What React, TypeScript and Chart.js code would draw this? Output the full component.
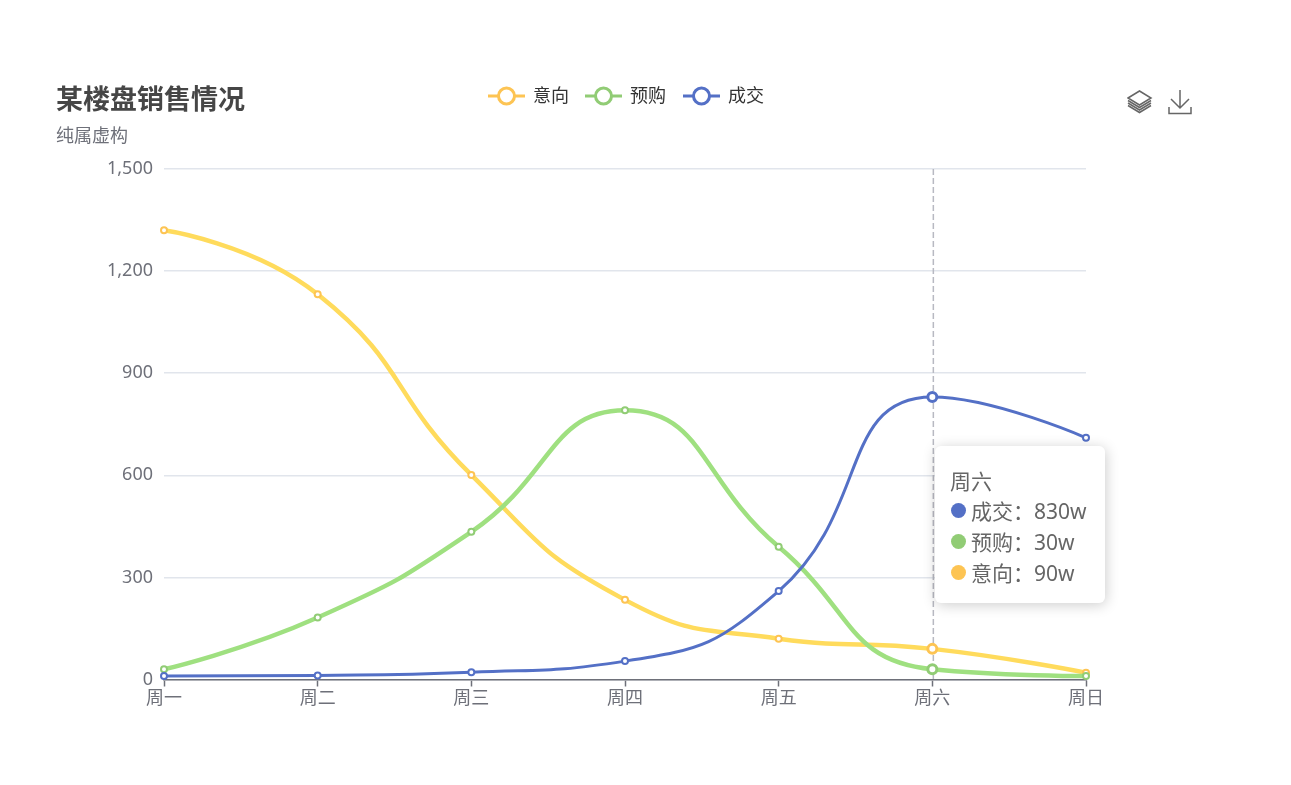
import { useEffect, useRef } from 'react';
import { Chart, registerables } from 'chart.js';

Chart.register(...registerables);

const FONT = '"Noto Sans", "Noto Sans CJK SC", sans-serif';

const days = ['周一', '周二', '周三', '周四', '周五', '周六', '周日'];
const intent = [1320, 1132, 601, 234, 120, 90, 20];
const booking = [30, 182, 434, 791, 390, 30, 10];
const deal = [10, 12, 21, 54, 260, 830, 710];
const activeDay = 5;

const YELLOW = '#FDC453';
const GREEN = '#91CC75';
const BLUE = '#5470C6';

const legendItems = [
    { name: '意向', color: YELLOW, left: 488 },
    { name: '预购', color: GREEN, left: 585 },
    { name: '成交', color: BLUE, left: 683 },
];

const tooltipRows = [
    { name: '成交', color: BLUE, value: deal[activeDay] },
    { name: '预购', color: GREEN, value: booking[activeDay] },
    { name: '意向', color: YELLOW, value: intent[activeDay] },
];

const clamp = (v: number, a: number, b: number) => Math.min(Math.max(v, Math.min(a, b)), Math.max(a, b));

// same tension as the library but control points stay between neighbouring points,
// and the two ends start flat on the point, so peaks do not overshoot
const noOvershoot = {
    id: 'noOvershoot',
    beforeDatasetDraw(chart: any, args: any) {
        const pts = args.meta.data;
        args.meta.dataset.updateControlPoints(chart.chartArea);
        const smooth = 0.5;
        pts.forEach((p: any, i: number) => {
            const prev = pts[i - 1];
            const next = pts[i + 1];
            if (!prev || !next) {
                p.cp1x = p.cp2x = p.x;
                p.cp1y = p.cp2y = p.y;
                return;
            }
            const lenPrev = Math.hypot(p.x - prev.x, p.y - prev.y);
            const lenNext = Math.hypot(next.x - p.x, next.y - p.y);
            const ratio = lenNext / (lenPrev + lenNext);
            let nx = clamp(p.x + (next.x - prev.x) * smooth * ratio, p.x, next.x);
            let ny = clamp(p.y + (next.y - prev.y) * smooth * ratio, p.y, next.y);
            const bx = clamp(p.x - ((nx - p.x) * lenPrev) / lenNext, p.x, prev.x);
            const by = clamp(p.y - ((ny - p.y) * lenPrev) / lenNext, p.y, prev.y);
            nx = p.x + ((p.x - bx) * lenNext) / lenPrev;
            ny = p.y + ((p.y - by) * lenNext) / lenPrev;
            p.cp1x = bx;
            p.cp1y = by;
            p.cp2x = nx;
            p.cp2y = ny;
        });
    },
};

// dashed vertical line under the hovered day
const axisPointer = {
    id: 'axisPointer',
    beforeDatasetsDraw(chart: any) {
        const x = chart.scales.x.getPixelForValue(activeDay);
        const { top, bottom } = chart.chartArea;
        const ctx = chart.ctx;
        ctx.save();
        ctx.strokeStyle = '#B8B9C2';
        ctx.lineWidth = 1.5;
        ctx.setLineDash([6, 3]);
        ctx.beginPath();
        ctx.moveTo(x + 1, top);
        ctx.lineTo(x + 1, bottom);
        ctx.stroke();
        ctx.restore();
    },
};

function series(label: string, data: number[], line: string, point: string, width: number, order: number) {
    return {
        label,
        data,
        order,
        borderColor: line,
        borderWidth: width,
        tension: 0.5,
        pointBackgroundColor: '#fff',
        pointBorderColor: point,
        pointBorderWidth: (c: any) => (c.dataIndex === activeDay ? 3 : 2),
        pointRadius: (c: any) => (c.dataIndex === activeDay ? 4.5 : 3),
        clip: false as const,
    };
}

export default function App() {
    const chartRef = useRef<HTMLCanvasElement>(null);

    useEffect(() => {
        const ctx = chartRef.current?.getContext('2d');
        if (!ctx) return;
        const myChart = new Chart(ctx, {
            type: 'line',
            data: {
                labels: days,
                datasets: [
                    series('意向', intent, '#FFDB5C', YELLOW, 4.5, 3),
                    series('预购', booking, '#9FE080', GREEN, 4.5, 2),
                    series('成交', deal, BLUE, BLUE, 3, 1),
                ],
            },
            options: {
                responsive: false,
                animation: false,
                events: [],
                layout: { autoPadding: false, padding: { top: 169, right: 205, bottom: 0, left: 0 } },
                plugins: { legend: { display: false }, tooltip: { enabled: false } },
                scales: {
                    x: {
                        afterFit: (s: any) => { s.height = 105.5; },
                        border: { color: '#6E7079', width: 1.5 },
                        grid: { drawOnChartArea: false, tickLength: 7, tickColor: '#6E7079', tickWidth: 1.5 },
                        ticks: { color: '#6E7079', font: { family: FONT, size: 18 }, padding: 2, maxRotation: 0, autoSkip: false },
                    },
                    y: {
                        min: 0,
                        max: 1500,
                        afterFit: (s: any) => { s.width = 164; },
                        border: { display: false },
                        grid: { color: '#E1E5EC', lineWidth: 1.5, drawTicks: false },
                        ticks: { stepSize: 300, color: '#6E7079', font: { family: FONT, size: 18, lineHeight: 1.2 }, padding: 11 },
                    },
                },
            },
            plugins: [axisPointer, noOvershoot],
        });

        return () => {
            myChart.destroy();
        };
    }, []);

    const text = (left: number, top: number, size: number, color: string, bold = false) => ({
        position: 'absolute' as const,
        left,
        top,
        fontSize: size,
        lineHeight: '30px',
        height: 30,
        color,
        fontWeight: bold ? 700 : 400,
        whiteSpace: 'nowrap' as const,
    });

    return (
        <div style={{ position: 'absolute', left: 0, top: 0, width: 1291, height: 785, fontFamily: FONT, overflow: 'hidden', background: '#fff' }}>
            <canvas ref={chartRef} width="1291" height="785" style={{ position: 'absolute', left: 0, top: 0 }}></canvas>

            <div style={text(56, 84, 27, '#464646', true)}>某楼盘销售情况</div>
            <div style={text(56, 120, 18, '#6E7079')}>纯属虚构</div>

            {legendItems.map((item) => (
                <div key={item.name}>
                    <svg width="38" height="20" style={{ position: 'absolute', left: item.left, top: 86 }}>
                        <line x1="0" y1="10" x2="37" y2="10" stroke={item.color} strokeWidth="3" />
                        <circle cx="18.5" cy="10" r="8" fill="#fff" stroke={item.color} strokeWidth="3" />
                    </svg>
                    <div style={text(item.left + 45, 80, 18, '#333')}>{item.name}</div>
                </div>
            ))}

            <svg width="26" height="26" viewBox="0 0 26 26" style={{ position: 'absolute', left: 1127, top: 89 }} fill="none" stroke="#666" strokeWidth="1.5">
                <path d="M1 9 L12.5 2 L24 9 L12.5 16 Z" />
                <path d="M1 11.5 L12.5 18.5 L24 11.5" />
                <path d="M1 14 L12.5 21 L24 14" />
                <path d="M1 16.5 L12.5 23.5 L24 16.5" />
            </svg>
            <svg width="26" height="28" viewBox="0 0 26 28" style={{ position: 'absolute', left: 1167, top: 88 }} fill="none" stroke="#666" strokeWidth="1.5">
                <path d="M13 2 V20 M4 11 L13 20 L22 11" />
                <path d="M2 19 V25.5 H24 V19" />
            </svg>

            <div style={{ position: 'absolute', left: 935, top: 446, width: 170, height: 157, background: '#fff', borderRadius: 6, boxShadow: '1px 2px 14px rgba(0,0,0,0.2)' }}>
                <div style={text(15, 20, 21, '#666')}>{days[activeDay]}</div>
                {tooltipRows.map((row, i) => (
                    <div key={row.name}>
                        <div style={{ position: 'absolute', left: 16, top: 57 + i * 31, width: 15, height: 15, borderRadius: '50%', background: row.color }}></div>
                        <div style={text(36, 50 + i * 31, 21, '#666')}>{row.name}：{row.value}w</div>
                    </div>
                ))}
            </div>
        </div>
    );
}
